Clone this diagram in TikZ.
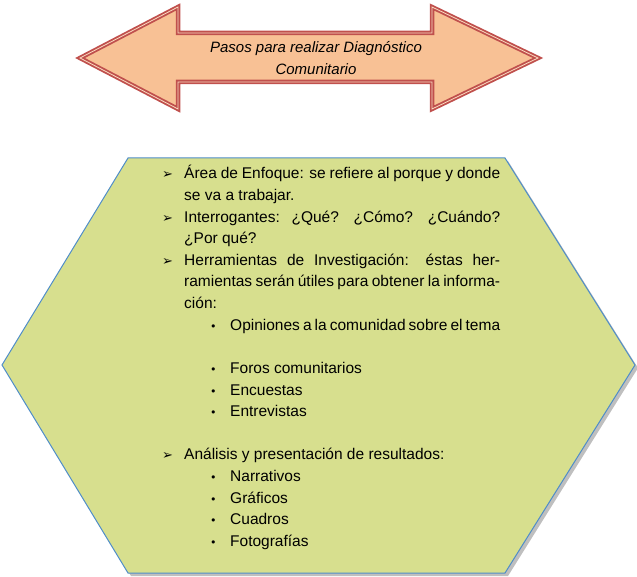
\documentclass[tikz,border=0pt]{standalone}
\usepackage{fontspec}
\setmainfont{Liberation Sans}
\newfontfamily\djv{DejaVu Sans}
\begin{document}
\begin{tikzpicture}[x=1pt,y=-1pt,
  txt/.style={anchor=base west,inner sep=0pt,align=justify,font=\fontsize{15.5}{21.6}\selectfont},
  mk/.style={anchor=base west,inner sep=0pt,font=\fontsize{15.5}{21.6}\selectfont}]
\useasboundingbox (0,0) rectangle (637,577);
\definecolor{hexfill}{HTML}{D7DF8E}
\definecolor{hexline}{HTML}{4F8DC9}
\definecolor{arrline}{HTML}{C0504D}
\definecolor{arrfill}{HTML}{F8C195}
% shadow
\fill[black!25] (131,161)--(508,161)--(638,368)--(508,576)--(131,576)--(5,368)--cycle;
\draw[hexline,fill=hexfill,line width=1pt] (128,158)--(505,158)--(635,365)--(505,573)--(128,573)--(2,365)--cycle;
% arrow
\draw[arrline,line width=4.5pt,fill=arrfill,line join=miter] (80,58)--(178,7)--(178,33)--(432,33)--(432,7)--(538,58)--(432,109)--(432,82)--(178,82)--(178,109)--cycle;
\draw[arrfill!60!white,line width=0.8pt,line join=miter] (80,58)--(178,7)--(178,33)--(432,33)--(432,7)--(538,58)--(432,109)--(432,82)--(178,82)--(178,109)--cycle;
\node[inner sep=0pt,align=center,font=\fontsize{15}{22}\selectfont\itshape] (title) at (316,58) {Pasos para realizar Diagnóstico\\Comunitario};
% items
\foreach \y in {179,222.2,265.4,459.8} \node[mk] at (162,\y) {\djv\fontsize{13}{14}\selectfont ➢};
\node[txt,text width=316pt] (a) at (184,179) {Área de Enfoque: se refiere al porque y donde se va a trabajar.};
\node[txt,text width=316pt] (b) at (184,222.2) {Interrogantes: ¿Qué? ¿Cómo? ¿Cuándo? ¿Por qué?};
\node[txt,text width=316pt] (c) at (184,265.4) {Herramientas de Investigación: éstas herramientas serán útiles para obtener la información:};
\foreach \y in {330.2,373.4,395,416.6,481.4,503,524.6,546.2} \node[mk] at (210,\y) {\djv\fontsize{11}{14}\selectfont •};
\node[txt,text width=270pt] (c1) at (230,330.2) {Opiniones a la comunidad sobre el tema};
\node[txt] (c2) at (230,373.4) {Foros comunitarios};
\node[txt] (c3) at (230,395) {Encuestas};
\node[txt] (c4) at (230,416.6) {Entrevistas};
\node[txt] (d) at (184,459.8) {Análisis y presentación de resultados:};
\node[txt] (d1) at (230,481.4) {Narrativos};
\node[txt] (d2) at (230,503) {Gráficos};
\node[txt] (d3) at (230,524.6) {Cuadros};
\node[txt] (d4) at (230,546.2) {Fotografías};
\end{tikzpicture}
\end{document}
